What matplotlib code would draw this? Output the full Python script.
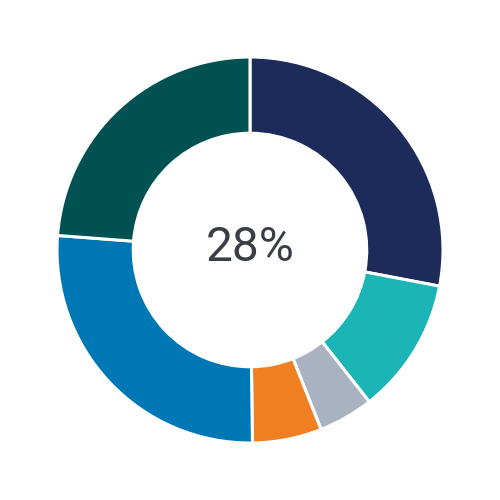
import matplotlib
matplotlib.use('Agg')
import matplotlib.pyplot as plt

# segment shares, clockwise from 12 o'clock
labels = ['Navy', 'Teal', 'Gray', 'Orange', 'Blue', 'Green']
values = [28, 11.4, 4.6, 5.8, 26.4, 23.8]
colors = ['#1d2b5b', '#1bb4b7', '#a8b2c1', '#f07f22', '#0077b5', '#005252']
center_text = '28%'

fig = plt.figure(figsize=(5, 5), dpi=100)
ax = fig.add_axes([0, 0, 1, 1])

ax.pie(values, colors=colors, startangle=90, counterclock=False, radius=1.0,
       wedgeprops=dict(width=0.395, edgecolor='white', linewidth=2.2))
ax.text(0, 0.008, center_text, ha='center', va='center', fontsize=34.5,
        color='#3b3f45', family='Roboto')

lim = 250 / 193
ax.set_xlim(-lim, lim)
ax.set_ylim(-lim, lim)
ax.set_aspect('equal')
ax.axis('off')

fig.savefig('out.png', dpi=100, facecolor='white')
